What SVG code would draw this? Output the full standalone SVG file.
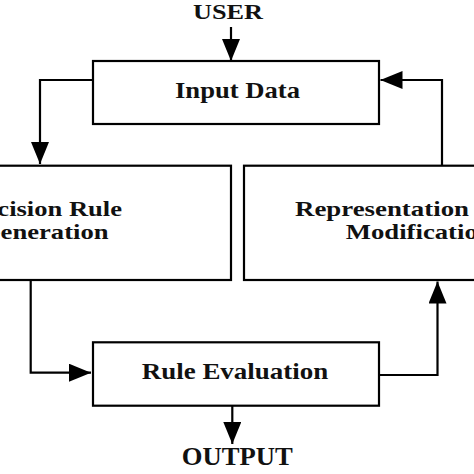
<svg xmlns="http://www.w3.org/2000/svg" width="474" height="474" viewBox="0 0 474 474">
<style>
.box{fill:#fff;stroke:#000;stroke-width:2.2}
.con{fill:none;stroke:#000;stroke-width:2.2}
.t{font-family:"Liberation Serif","Times New Roman",serif;font-weight:bold;font-size:24px;fill:#111}
.t2{font-size:22px}
</style>
<defs>
<marker id="ah" markerUnits="userSpaceOnUse" viewBox="0 0 22 18" refX="22" refY="9" markerWidth="22" markerHeight="18" orient="auto">
<path d="M0,0 L22,9 L0,18 Z" fill="#000"/>
</marker>
</defs>
<rect width="474" height="474" fill="#fff"/>
<g id="connectors">
<path class="con" d="M231,27 L231,61" marker-end="url(#ah)"/>
<path class="con" d="M93,80 L40,80 L40,164" marker-end="url(#ah)"/>
<path class="con" d="M30.7,280 L30.7,372.7 L91,372.7" marker-end="url(#ah)"/>
<path class="con" d="M379,375 L437.5,375 L437.5,281.5" marker-end="url(#ah)"/>
<path class="con" d="M442,166 L442,80 L380.5,80" marker-end="url(#ah)"/>
<path class="con" d="M232.3,406 L232.3,444" marker-end="url(#ah)"/>
</g>
<g id="user"><text class="t" x="228" y="18.5" text-anchor="middle" textLength="70" lengthAdjust="spacingAndGlyphs" style="font-size:21px">USER</text></g>
<g id="input-data">
<rect class="box" x="93" y="61" width="286" height="63"/>
<text class="t" x="237.5" y="97.5" text-anchor="middle" textLength="125" lengthAdjust="spacingAndGlyphs">Input Data</text>
</g>
<g id="decision-rule-generation">
<rect class="box" x="-150" y="165.7" width="381" height="114.3"/>
<text class="t t2" x="44.2" y="215.7" text-anchor="middle" textLength="155.6" lengthAdjust="spacingAndGlyphs">Decision Rule</text>
<text class="t t2" x="44.2" y="239" text-anchor="middle" textLength="128.6" lengthAdjust="spacingAndGlyphs">Generation</text>
</g>
<g id="representation-modification">
<rect class="box" x="244" y="165.7" width="300" height="114.3"/>
<text class="t t2" x="295" y="215.7" textLength="174" lengthAdjust="spacingAndGlyphs">Representation</text>
<text class="t t2" x="345.7" y="239" textLength="147" lengthAdjust="spacingAndGlyphs">Modification</text>
</g>
<g id="rule-evaluation">
<rect class="box" x="93" y="342.3" width="286" height="63.4"/>
<text class="t" x="235" y="379" text-anchor="middle" textLength="186.6" lengthAdjust="spacingAndGlyphs">Rule Evaluation</text>
</g>
<g id="output"><text class="t" x="237.2" y="465" text-anchor="middle" textLength="111" lengthAdjust="spacingAndGlyphs" style="font-size:26px">OUTPUT</text></g>
</svg>
